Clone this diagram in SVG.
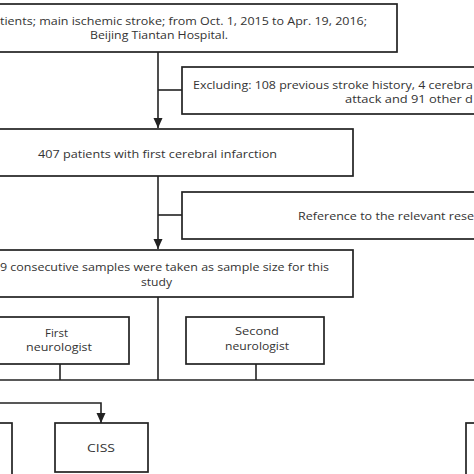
<svg xmlns="http://www.w3.org/2000/svg" width="474" height="474" viewBox="0 0 474 474">
<style>
.box{fill:#fff;stroke:#222;stroke-width:1.7}
.ln{fill:none;stroke:#222;stroke-width:1.6}
text{font-family:"Open Sans","Noto Sans","DejaVu Sans",sans-serif;font-size:11px;fill:#333}
.m{text-anchor:middle}
</style>
<defs>
<marker id="ah" viewBox="0 0 10 14" refX="10" refY="7" markerWidth="10" markerHeight="14" markerUnits="userSpaceOnUse" orient="auto">
<path d="M0,2.5 L10,7 L0,11.5 Z" fill="#222"/>
</marker>
</defs>
<rect width="474" height="474" fill="#fff"/>
<g id="connectors">
<path class="ln" d="M158,52 V128" marker-end="url(#ah)"/>
<path class="ln" d="M158,90 H182"/>
<path class="ln" d="M158,176 V249" marker-end="url(#ah)"/>
<path class="ln" d="M158,215 H182"/>
<path class="ln" d="M158,297 V380"/>
<path class="ln" d="M60,364 V380"/>
<path class="ln" d="M256,364 V380"/>
<path class="ln" d="M-2,380 H476"/>
<path class="ln" d="M-2,403 H101 V423" marker-end="url(#ah)"/>
</g>
<g id="node-source">
<rect class="box" x="-80" y="4" width="477" height="48"/>
<text x="0" y="25" textLength="367" lengthAdjust="spacingAndGlyphs">tients; main ischemic stroke; from Oct. 1, 2015 to Apr. 19, 2016;</text>
<text x="90" y="39" textLength="138" lengthAdjust="spacingAndGlyphs">Beijing Tiantan Hospital.</text>
</g>
<g id="node-exclude">
<rect class="box" x="182" y="67" width="300" height="47"/>
<text x="193" y="89" textLength="280" lengthAdjust="spacingAndGlyphs">Excluding: 108 previous stroke history, 4 cerebra</text>
<text x="345" y="103" textLength="128" lengthAdjust="spacingAndGlyphs">attack and 91 other d</text>
</g>
<g id="node-407">
<rect class="box" x="-40" y="129" width="393" height="47"/>
<text x="38" y="158" textLength="239" lengthAdjust="spacingAndGlyphs">407 patients with first cerebral infarction</text>
</g>
<g id="node-reference">
<rect class="box" x="182" y="192" width="300" height="47"/>
<text x="298" y="220" textLength="176" lengthAdjust="spacingAndGlyphs">Reference to the relevant rese</text>
</g>
<g id="node-sample">
<rect class="box" x="-40" y="250" width="393" height="47"/>
<text x="0" y="271" textLength="329" lengthAdjust="spacingAndGlyphs">9 consecutive samples were taken as sample size for this</text>
<text x="141" y="286" textLength="31" lengthAdjust="spacingAndGlyphs">study</text>
</g>
<g id="node-first">
<rect class="box" x="-10" y="317" width="139" height="47"/>
<text x="45" y="337" textLength="23" lengthAdjust="spacingAndGlyphs">First</text>
<text x="26" y="351" textLength="66" lengthAdjust="spacingAndGlyphs">neurologist</text>
</g>
<g id="node-second">
<rect class="box" x="186" y="317" width="138" height="47"/>
<text x="235" y="335" textLength="44" lengthAdjust="spacingAndGlyphs">Second</text>
<text x="225" y="350" textLength="64" lengthAdjust="spacingAndGlyphs">neurologist</text>
</g>
<g id="node-left">
<rect class="box" x="-60" y="423" width="72" height="60"/>
</g>
<g id="node-ciss">
<rect class="box" x="55" y="423" width="93" height="49"/>
<text x="87" y="452" textLength="28" lengthAdjust="spacingAndGlyphs">CISS</text>
</g>
<g id="node-right">
<rect class="box" x="466" y="423" width="40" height="60"/>
</g>
</svg>
